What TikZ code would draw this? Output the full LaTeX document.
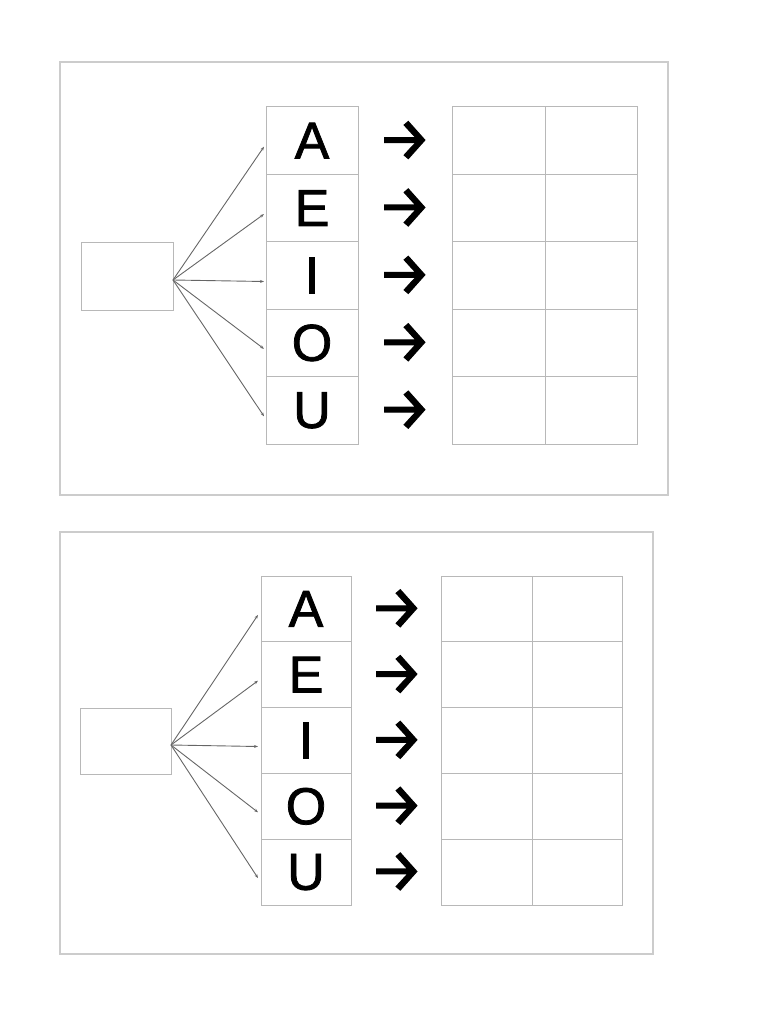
\documentclass[tikz,border=0pt]{standalone}
\usepackage{fontspec}
\setmainfont{Liberation Sans}
\newfontfamily\vowelfont[FakeBold=1.5]{Liberation Sans}
\newfontfamily\arrowfont[FakeBold=2]{Fira Sans}
\usetikzlibrary{arrows.meta,shapes}

\tikzset{
  frame/.style={draw=black!20, line width=1.4pt},
  cell/.style={draw=black!28, line width=1pt, inner sep=0pt, outer sep=0pt},
  letter/.style={font=\fontsize{52}{60}\vowelfont, inner sep=0pt},
  goesto/.style={font=\fontsize{60}{68}\arrowfont, inner sep=0pt},
  fan/.style={draw=black!60, line width=0.9pt, -{Stealth[length=4pt,width=3pt]}}
}

\begin{document}
\begin{tikzpicture}[x=1pt, y=-1pt]
\useasboundingbox (0,0) rectangle (768,1024);

%% upper sheet
\draw[frame] (60,62) rectangle (668,495);
\node[cell, minimum width=92pt, minimum height=68pt] (srcA) at (127,276) {};
\foreach \v [count=\i] in {A,E,I,O,U} {
  \pgfmathsetmacro{\yy}{107+67.4*(\i-0.5)}
  \node[cell, minimum width=92pt, minimum height=67.4pt] (vA\i) at (312,\yy) {};
  \node[letter] (lA\i) at (vA\i) {\v};
  \node[goesto] (gA\i) at (404.5,\yy) {→};
  \node[cell, minimum width=93pt, minimum height=67.4pt] (pA\i) at (498.5,\yy) {};
  \node[cell, minimum width=92pt, minimum height=67.4pt] (qA\i) at (591,\yy) {};
  \draw[fan] ([yshift=-4pt]srcA.east) -- ([xshift=-2pt,yshift=-6pt]vA\i.west);
}

%% lower sheet
\draw[frame] (60,532) rectangle (653,954);
\node[cell, minimum width=91pt, minimum height=66pt] (srcB) at (125.5,741) {};
\foreach \v [count=\i] in {A,E,I,O,U} {
  \pgfmathsetmacro{\yy}{576+65.8*(\i-0.5)}
  \node[cell, minimum width=90pt, minimum height=65.8pt] (vB\i) at (306,\yy) {};
  \node[letter] (lB\i) at (vB\i) {\v};
  \node[goesto] (gB\i) at (396.5,\yy) {→};
  \node[cell, minimum width=91pt, minimum height=65.8pt] (pB\i) at (486.5,\yy) {};
  \node[cell, minimum width=90pt, minimum height=65.8pt] (qB\i) at (577,\yy) {};
  \draw[fan] ([yshift=-4pt]srcB.east) -- ([xshift=-3pt,yshift=-6pt]vB\i.west);
}

\end{tikzpicture}
\end{document}
